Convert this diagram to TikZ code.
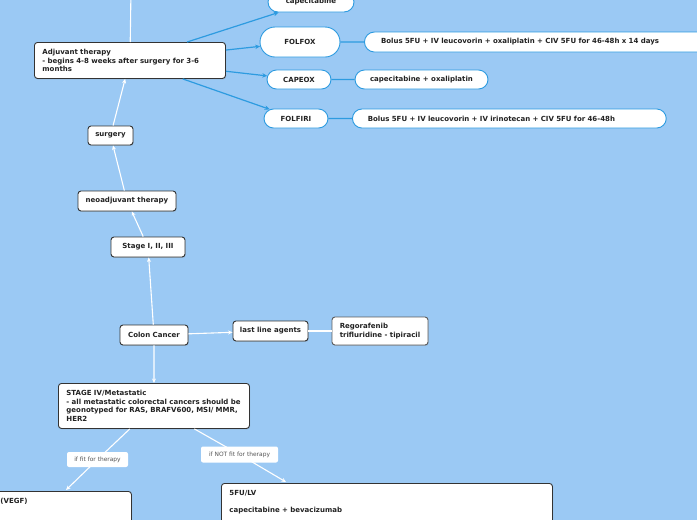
\documentclass[tikz,border=0pt]{standalone}
\usepackage{fontspec}
\setmainfont{DejaVu Sans}
\usetikzlibrary{shapes.misc,shadows,arrows.meta,calc}
\definecolor{bg}{HTML}{9BC9F4}
\definecolor{pillblue}{HTML}{2D9BE0}
\definecolor{darkb}{HTML}{333333}
\definecolor{lblgray}{HTML}{555555}
\definecolor{txt}{HTML}{222222}
\hyphenpenalty=10000
\exhyphenpenalty=10000
\begin{document}
\begin{tikzpicture}[x=1pt,y=-1pt,
  bfont/.style={font=\bfseries\fontsize{7}{8.6}\selectfont, text=txt},
  box/.style={bfont, draw=darkb, line width=0.9pt, fill=white, rounded corners=3pt,
    drop shadow={shadow xshift=0.7pt, shadow yshift=-0.9pt, opacity=0.3}, inner sep=0pt},
  lbox/.style={box, align=left, inner xsep=8pt, inner ysep=6pt},
  pill/.style={bfont, rounded rectangle, draw=pillblue, line width=0.9pt, fill=white, inner sep=0pt},
  lpill/.style={pill, align=left, inner xsep=16pt},
  lbl/.style={font=\fontsize{5.9}{7}\selectfont, text=lblgray, fill=white, rounded corners=2pt, inner sep=0pt},
  wline/.style={draw=white, line width=1.1pt},
  warrow/.style={wline, -{Stealth[length=4.5pt,width=4pt]}},
  bline/.style={draw=pillblue, line width=1.2pt},
  barrow/.style={bline, -{Stealth[length=5pt,width=4.5pt]}}
]
\useasboundingbox[fill=bg] (0,0) rectangle (697,520);

% dark boxes
\node[lbox, text width=175pt, minimum height=36pt, anchor=north west] (adjuvant) at (34,42)
  {Adjuvant therapy\\- begins 4-8 weeks after surgery for 3-6 months};
\node[box, minimum width=45pt, minimum height=19pt] (surgery) at (110.5,135.5) {surgery};
\node[box, minimum width=98pt, minimum height=20pt] (neoadj) at (127,201) {neoadjuvant therapy};
\node[box, minimum width=74pt, minimum height=20pt] (stage) at (148,247) {Stage I, II, III};
\node[box, minimum width=68pt, minimum height=20pt] (colon) at (154,335) {Colon Cancer};
\node[box, minimum width=75pt, minimum height=20pt] (lastline) at (270.5,331) {last line agents};
\node[box, draw=darkb!80, align=left, minimum width=96pt, minimum height=28pt] (rego) at (380,331)
  {Regorafenib\\trifluridine - tipiracil};
\node[lbox, text width=175pt, minimum height=45pt, anchor=north west] (stage4) at (58,383)
  {STAGE IV/Metastatic\\- all metastatic colorectal cancers should be geonotyped for RAS, BRAFV600, MSI/ MMR, HER2};
\node[lbox, text width=123pt, anchor=north west, inner ysep=7pt] (vegf) at (-8,491)
  {(VEGF)\\ \rule{0pt}{40pt}};
\node[lbox, text width=315pt, anchor=north west, inner ysep=7pt] (fivefu) at (221,483)
  {5FU/LV\\ \mbox{}\\ capecitabine + bevacizumab\\ \rule{0pt}{20pt}};

% pills
\node[pill, minimum width=86pt, minimum height=20pt] (cape) at (311,2) {capecitabine};
\node[pill, minimum width=80pt, minimum height=30pt] (folfox) at (300,42) {FOLFOX};
\node[lpill, text width=330pt, minimum height=20pt, anchor=west] (bolus1) at (364,42)
  {Bolus 5FU + IV leucovorin + oxaliplatin + CIV 5FU for 46-48h x 14 days};
\node[pill, minimum width=64pt, minimum height=19pt] (capeox) at (299,79.5) {CAPEOX};
\node[pill, minimum width=133pt, minimum height=19pt] (capox) at (421.5,79.5) {capecitabine + oxaliplatin};
\node[pill, minimum width=64pt, minimum height=19pt] (folfiri) at (296,118.5) {FOLFIRI};
\node[lpill, text width=283pt, minimum height=19pt, anchor=west, inner xsep=15pt] (bolus2) at (352,118.5)
  {Bolus 5FU + IV leucovorin + IV irinotecan + CIV 5FU for 46-48h};

% coordinates
\coordinate (topc) at (131,-10);
\coordinate (vegfin) at (66,490);
\coordinate (fivefuin) at (286,482);

% white connectors
\draw[warrow] (colon) -- (stage);
\draw[warrow] (stage) -- (neoadj);
\draw[warrow] (neoadj) -- (surgery);
\draw[warrow] (surgery) -- (adjuvant);
\draw[wline] (adjuvant) -- (topc);
\draw[warrow] (colon) -- (lastline);
\draw[wline] (lastline) -- (rego);
\draw[warrow] (colon) -- (stage4);
\draw[wline] (stage4) -- (97.5,459.5) coordinate (fitc);
\draw[warrow] (fitc) -- (vegfin);
\draw[wline] (stage4) -- (239.5,454.5) coordinate (notfitc);
\draw[warrow] (notfitc) -- (fivefuin);

% blue connectors
\draw[barrow] (adjuvant) -- (cape);
\draw[barrow] (adjuvant) -- (folfox);
\draw[barrow] (adjuvant) -- (capeox);
\draw[barrow] (adjuvant) -- (folfiri);
\draw[bline] (folfox) -- (bolus1);
\draw[bline] (capeox) -- (capox);
\draw[bline] (folfiri) -- (bolus2);

% labels
\node[lbl, minimum width=61pt, minimum height=15pt] (fit) at (fitc) {if fit for therapy};
\node[lbl, minimum width=77pt, minimum height=16pt] (notfit) at (notfitc) {if NOT fit for therapy};
\end{tikzpicture}
\end{document}
